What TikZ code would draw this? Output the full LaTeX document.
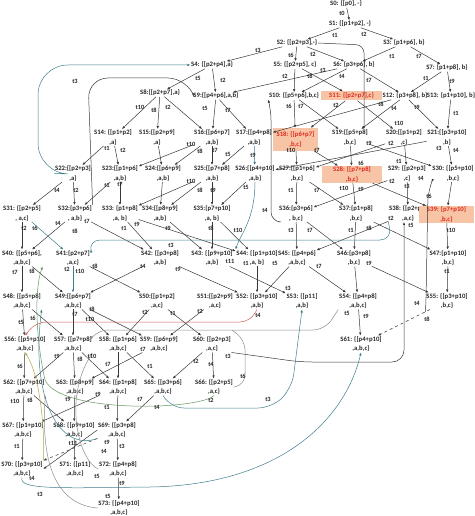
\documentclass[tikz,border=0pt]{standalone}
\usepackage{fontspec}
\setmainfont{Carlito}
\usetikzlibrary{arrows.meta,calc}
\definecolor{hlfill}{RGB}{248,196,166}
\definecolor{hlred}{RGB}{222,40,28}
\definecolor{tealc}{RGB}{60,125,140}
\definecolor{olivec}{RGB}{175,165,70}
\definecolor{greenc}{RGB}{100,150,95}
\definecolor{redc}{RGB}{205,95,85}
\definecolor{greyc}{RGB}{140,140,140}
\begin{document}
\begin{tikzpicture}[x=1pt,y=-1pt,
  st/.style={font=\fontsize{6.7}{9.5}\selectfont\bfseries, inner sep=0.6pt, align=center, text=black!85},
  hl/.style={st, fill=hlfill, text=hlred},
  lb/.style={font=\fontsize{6.4}{7}\selectfont\bfseries, inner sep=0pt, text=black!85},
  e/.style={-{Latex[length=3pt,width=2.5pt]}, line width=0.5pt, draw=black!78},
  ec/.style={e, draw=tealc},
  eo/.style={e, draw=olivec},
  eg/.style={e, draw=greyc},
  er/.style={e, draw=redc},
  egreen/.style={e, draw=greenc},
  plain/.style={line width=0.5pt, draw=greyc}]
\useasboundingbox (0,0) rectangle (474,516);
% rows 0-4
\node[st] (S0) at (346,4) {S0: \{[p0], -\}};
\node[st] (S1) at (350,24) {S1: \{[p1+p2], -\}};
\node[st] (S2) at (297,43) {S2: \{[p2+p3],-\}};
\node[st] (S3) at (404,43) {S3: \{p1+p6], b\}};
\node[st] (S4) at (212,65) {S4: \{[p2+p4],a\}};
\node[st] (S5) at (295,65) {S5: \{[p2+p5], c\}};
\node[st] (S6) at (354,65) {S6: \{p3+p6], b\}};
\node[st] (S7) at (447,68) {S7: \{p1+p8], b\}};
\node[st] (S8) at (160,93) {S8:\{[p2+p7],a\}};
\node[st] (S9) at (216,96) {S9:\{[p4+p6],a,b\}};
\node[st] (S10) at (294,96) {S10: \{[p5+p6],b,c\}};
\node[hl, minimum width=61pt, minimum height=9pt] (S11) at (351.5,96) {S11: \{[p2+p7],c\}};
\node[st] (S12) at (405,96) {S12: \{p3+p8], b\}};
\node[st] (S13) at (451,96) {S13: \{p1+p10], b\}};
% row 5
\node[st] (S14) at (113,137.5) {S14: \{[p1+p2]\\,a\}};
\node[st] (S15) at (157,137.5) {S15:\{[p2+p9]\\,a\}};
\node[st] (S16) at (212,137.5) {S16:\{[p6+p7]\\,a,b\}};
\node[st] (S17) at (254,137.5) {S17:\{[p4+p8]\\,a,b\}};
\node[hl, minimum width=45pt, minimum height=23pt] (S18) at (295.5,139.5) {S18: \{[p6+p7]\\,b,c\}};
\node[st] (S19) at (350,137.5) {S19:\{[p5+p8]\\,b,c\}};
\node[st] (S20) at (404,137.5) {S20:\{[p1+p2]\\,c\}};
\node[st] (S21) at (447,137.5) {S21:\{[p3+p10]\\,b\}};
% row 6
\node[st] (S22) at (73,173.5) {S22:\{[p2+p3]\\,a\}};
\node[st] (S23) at (120,173.5) {S23:\{[p1+p6]\\,a,b\}};
\node[st] (S24) at (163,173.5) {S24:\{[p6+p9]\\,a,b\}};
\node[st] (S25) at (212,173.5) {S25:\{[p7+p8]\\,a,b\}};
\node[st] (S26) at (255,173.5) {S26:\{[p4+p10]\\,a,b\}};
\node[st] (S27) at (297,173.5) {S27:\{[p1+p6]\\,b,c\}};
\node[hl, minimum width=60pt, minimum height=17pt] (S28) at (352,174.5) {S28: \{[p7+p8]\\,b,c\}};
\node[st] (S29) at (407,173.5) {S29: \{[p2+p3]\\,c\}};
\node[st] (S30) at (453,173.5) {S30: \{[p5+p10]\\,b,c\}};
% row 7
\node[st] (S31) at (22,213.5) {S31: \{[p2+p5]\\, a,c\}};
\node[st] (S32) at (75,213.5) {S32:\{p3+p6]\\, a,b\}};
\node[st] (S33) at (120,213.5) {S33: \{p1+p8]\\,a, b\}};
\node[st] (S34) at (160,213.5) {S34:\{[p8+p9]\\,a,b\}};
\node[st] (S35) at (212,213.5) {S35:\{p7+p10]\\,a, b\}};
\node[st] (S36) at (296,213.5) {S36:\{p3+p6]\\, b,c\}};
\node[st] (S37) at (356,213.5) {S37:\{p1+p8]\\,b,c\}};
\node[st] (S38) at (408,213.5) {S38: \{[p2+p4]\\,a,c\}};
\node[hl, minimum width=55pt, minimum height=17pt] (S39) at (446.5,214.5) {S39: \{p7+p10]\\,b,c\}};
% row 8
\node[st] (S40) at (22,258) {S40: \{[p5+p6],\\,a,b,c\}};
\node[st] (S41) at (73,258) {S41:\{p2+p7]\\,a,c\}};
\node[st] (S42) at (160,258) {S42: \{[p3+p8]\\,a,b\}};
\node[st] (S43) at (212,258) {S43: \{[p9+p10]\\,a,b\}};
\node[st] (S44) at (257,258) {S44: \{[p1+p10]\\,a, b\}};
\node[st] (S45) at (297,258) {S45: \{[p4+p6]\\,a,b,c\}};
\node[st] (S46) at (354,258) {S46:\{p3+p8]\\,b,c\}};
\node[st] (S47) at (448,258) {S47:\{p1+p10]\\,b,c\}};
% row 9
\node[st] (S48) at (22,301) {S48: \{[p5+p8]\\,a,b,c\}};
\node[st] (S49) at (73,301) {S49:\{[p6+p7]\\,a,b,c\}};
\node[st] (S50) at (157,301) {S50:\{[p1+p2]\\,a,c\}};
\node[st] (S51) at (215,301) {S51:\{[p2+p9]\\,a,c\}};
\node[st] (S52) at (257,301) {S52: \{[p3+p10]\\,a,b\}};
\node[st] (S53) at (302,301) {S53: \{[p11]\\,a,b\}};
\node[st] (S54) at (358,301) {S54: \{[p4+p8]\\,a,b,c\}};
\node[st] (S55) at (447,301) {S55: \{[p3+p10]\\,b,c\}};
% row 10
\node[st] (S56) at (25,344) {S56: \{[p5+p10]\\,a,b,c\}};
\node[st] (S57) at (73,344) {S57: \{[p7+p8]\\,a,b,c\}};
\node[st] (S58) at (118,344) {S58: \{[p1+p6]\\,a,b,c\}};
\node[st] (S59) at (159,344) {S59: \{[p6+p9]\\,a,b,c\}};
\node[st] (S60) at (212,344) {S60: \{[p2+p3]\\,a,c\}};
\node[st] (S61) at (361,344) {S61: \{[p4+p10]\\,a,b,c\}};
% row 11
\node[st] (S62) at (24,387) {S62: \{[p7+p10]\\,a,b,c\}};
\node[st] (S63) at (75,387) {S63: \{[p8+p9]\\,a,b,c\}};
\node[st] (S64) at (118,387) {S64: \{[p1+p8]\\,a,b,c\}};
\node[st] (S65) at (163,387) {S65: \{[p3+p6]\\,a,b,c\}};
\node[st] (S66) at (214,387) {S66: \{[p2+p5]\\,a,c\}};
% row 12
\node[st] (S67) at (23,430) {S67: \{[p1+p10]\\,a,b,c\}};
\node[st] (S68) at (74,430) {S68: \{[p9+p10]\\,a,b,c\}};
\node[st] (S69) at (117,430) {S69: \{[p3+p8]\\,a,b,c\}};
% row 13-14
\node[st] (S70) at (22,469) {S70: \{[p3+p10]\\,a,b,c\}};
\node[st] (S71) at (75,469) {S71: \{[p11]\\,a,b,c\}};
\node[st] (S72) at (118,469) {S72: \{[p4+p8]\\,a,b,c\}};
\node[st] (S73) at (119,508) {S73: \{[p4+p10]\\,a,b,c\}};

% straight connectors
\foreach \a/\b in {S0/S1,S1/S2,S1/S3,S2/S4,S2/S5,S2/S6,S3/S6,S3/S7,S4/S8,S4/S9,S6/S9,S5/S10,S5/S11,S6/S10,S6/S12,S7/S12,S7/S13,
  S8/S14,S8/S15,S8/S16,S9/S16,S9/S17,S10/S18,S10/S19,S11/S18,S11/S20,S12/S17,S12/S19,S12/S21,S13/S21,
  S14/S22,S14/S23,S15/S24,S16/S23,S16/S24,S16/S25,S17/S25,S18/S27,S18/S28,S19/S28,S19/S30,S20/S27,S20/S29,S21/S26,S21/S30,
  S22/S31,S22/S32,S23/S32,S23/S33,S24/S34,S25/S33,S25/S34,S25/S35,S26/S35,S27/S36,S27/S37,S28/S37,S28/S39,S29/S36,S29/S38,S30/S39,
  S31/S40,S32/S40,S32/S42,S33/S42,S33/S44,S34/S43,S35/S43,S35/S44,S36/S45,S36/S46,S37/S46,S37/S47,S38/S45,S39/S47,
  S40/S48,S40/S49,S41/S50,S42/S49,S42/S52,S43/S53,S45/S52,S45/S54,S46/S54,S46/S55,S47/S55,
  S48/S56,S48/S57,S49/S57,S49/S58,S49/S59,S50/S58,S50/S60,S51/S59,S54/S61,
  S56/S62,S57/S62,S57/S63,S57/S64,S58/S64,S58/S65,S59/S63,S60/S65,S60/S66,
  S62/S67,S62/S68,S63/S68,S64/S67,S64/S69,S65/S69,
  S67/S70,S68/S71,S69/S72,S72/S73}
  \draw[e] (\a) -- (\b);
\draw[e, line width=1pt] (S44) -- (S52);
\draw[ec] (S17) -- (S26);
\draw[ec] (S31) -- (S41);
\draw[ec, line width=0.9pt] (S41) -- (S49);
\draw[e, dashed] (S55) -- (S61);
\draw[e, dashed] (S69.south west) -- (S70.north east);
\draw[e] (S69.west) -- (S70.east);

% curved / routed connectors
\draw[e, rounded corners=8pt] (S2.east) -- (364,45) -- ($(S19.north)+(14,0)$);
\draw[ec, rounded corners=30pt] (S22.west) -- (38,173) -- (38,65) -- (S4.west);
\draw[e, rounded corners=20pt] (S32.north east) -- (88,78) -- (188,78) -- (S9.north west);
\draw[e, rounded corners=10pt] (S36.south west) -- (271,222) -- (271,110) -- (S10.south west);
\draw[ec, rounded corners=12pt] (S38.south west) -- (392,240) -- (88,240) -- (S41.north east);
\draw[e, rounded corners=12pt] (S60.south east) -- (300,362) -- (404,362) -- ($(S38.south)+(-4,0)$);
\draw[eg, rounded corners=12pt] (S54.south west) -- (325,330) -- (96,330) -- (S57.north east);
\draw[er, rounded corners=10pt] (S52.south) -- (250,322) -- (36,322) -- (S56.north);
\coordinate (j1) at (232,330);
\draw[plain, rounded corners=10pt] (S66.east) -- (245,385) -- (245,340) -- (j1);
\draw[ec, rounded corners=14pt] (S65.south) -- (170,408) -- (272,408) -- (292,388) -- (S53.south);
\draw[ec] (S26.south) .. controls (255,220) and (240,235) .. (S44.north west);
\draw[eo] (S70.north east) .. controls (45,430) and (40,375) .. (S56.south);
\draw[ec] (S69.south west) .. controls (60,452) and (30,400) .. (S48.south east);
\draw[egreen] (S66.south) .. controls (200,410) and (60,414) .. (45,380) .. controls (36,340) and (34,290) .. (S40.south east);
\draw[ec] (S70.south) .. controls (18,490) and (60,488) .. (150,487) .. controls (280,485) and (345,420) .. (S61.south);
\draw[eg] (S72.west) .. controls (80,462) and (62,400) .. (S57.south east);
\draw[eg] (S73.west) .. controls (60,505) and (40,470) .. (S62.south east);
\draw[e, rounded corners=12pt] (S55.south west) -- (426,300) -- (428,190) -- (S30.south west);

% transition labels
\foreach \lx/\ly/\lt [count=\i] in {342/13/t0, 335/35/t1, 364/34/t2, 258/50/t3, 291/55/t6, 313/54/t2, 392/56/t1, 419/56/t7, 323/70/t3, 342/76/t4,
 198/78/t5, 223/80/t2, 285/76/t2, 310/76/t8, 369/80/t7, 426/78/t1, 452/81/t9, 75/81/t3, 140/107/t10, 154/110/t8, 168/107/t2, 205/108/t5, 228/110/t7,
 289/106/t6, 301/106/t7, 336/105/t2, 381/104/t8, 394/108/t4, 417/107/t9, 456/113/t1, 399/123/t10,
 107/148/t1, 123/150/t2, 191/144/t10, 200/151/t8, 215/150/t7, 228/154/t5, 253/155/t9, 291/150/t10, 317/150/t7, 369/143/t9, 391/143/t2, 439/148/t3, 456/150/t4, 361/163/t6, 399/161/t1,
 57/190/t4, 76/190/t2, 107/185/t1, 120/184/t7, 191/181/t10, 200/190/t8, 213/190/t9, 246/187/t5, 291/190/t1, 317/190/t7, 344/188/t10, 361/189/t9, 392/181/t2, 407/186/t3, 421/178/t4, 429/196/t6,
 24/228/t2, 35/228/t6, 58/223/t4, 75/231/t8, 87/221/t7, 124/228/t1, 137/224/t9, 168/228/t9, 171/245/t3, 211/228/t8, 238/230/t10, 265/210/t4, 291/230/t3, 310/230/t7, 351/230/t1, 369/228/t8, 391/218/t2, 411/225/t5, 451/230/t10,
 15/272/t7, 32/271/t8, 67/269/t2, 80/271/t10, 95/266/t8, 143/266/t4, 178/269/t9, 230/261/t11, 246/263/t1, 275/263/t5, 319/266/t7, 369/263/t9, 447/271/t1, 288/288/t3,
 21/322/t5, 33/318/t6, 75/314/t7, 92/309/t8, 90/319/t10, 145/312/t2, 173/313/t1, 200/311/t2, 258/315/t4, 347/313/t5, 366/316/t9, 417/303/t4, 427/319/t8,
 20/366/t6, 57/356/t9, 80/359/t8, 92/356/t10, 108/364/t7, 143/349/t7, 150/366/t1, 196/361/t2, 211/364/t4, 228/356/t3, 243/376/t6,
 15/401/t10, 30/400/t8, 68/399/t9, 98/394/t9, 107/407/t1, 140/399/t7, 157/407/t4, 211/400/t2, 268/399/t3,
 17/446/t1, 73/443/t11, 107/442/t9, 104/451/t4, 122/446/t3,
 32/478/t4, 97/476/t5, 122/483/t9, 40/494/t3, 108/496/t5}
  \node[lb] (lab\i) at (\lx,\ly) {\lt};
\end{tikzpicture}
\end{document}
